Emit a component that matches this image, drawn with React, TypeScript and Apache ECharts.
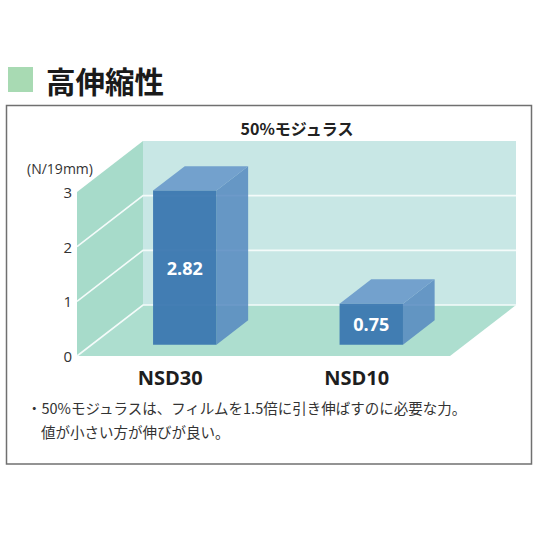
import React, { useEffect, useRef } from "react";
import * as echarts from "echarts";

const categories = ["NSD30", "NSD10"];
const values = [2.82, 0.75];
const yTicks = [0, 1, 2, 3];
const gridValues = [0, 1, 2];
const mainTitle = "高伸縮性";
const subTitle = "50%モジュラス";
const unitLabel = "(N/19mm)";
const noteLines = [
  "・50%モジュラスは、フィルムを1.5倍に引き伸ばすのに必要な力。",
  "値が小さい方が伸びが良い。",
];

const FONT = "'Open Sans', 'Noto Sans CJK JP', sans-serif";
const JP = "'Noto Sans CJK JP', 'Open Sans', sans-serif";
const DX = 66;
const DY = -51;
const F1 = 0.22;
const F2 = 0.7;

export default function App() {
  const ref = useRef<HTMLDivElement>(null);
  useEffect(() => {
    if (!ref.current) return;
    const chart = echarts.init(ref.current, undefined, { renderer: "svg" });

    const wallsRender = (params: any, api: any) => {
      const cs = params.coordSys;
      const x0 = cs.x, x1 = cs.x + cs.width;
      const yTop = cs.y, yBot = cs.y + cs.height;
      const children: any[] = [];
      children.push({
        type: "rect",
        shape: { x: x0 + DX, y: yTop + DY, width: x1 - x0, height: yBot - yTop },
        style: { fill: "#c8e7e5" },
      });
      children.push({
        type: "polygon",
        shape: { points: [[x0, yTop], [x0 + DX, yTop + DY], [x0 + DX, yBot + DY], [x0, yBot]] },
        style: { fill: "#a7dbca" },
      });
      children.push({
        type: "polygon",
        shape: { points: [[x0, yBot], [x1, yBot], [x1 + DX, yBot + DY], [x0 + DX, yBot + DY]] },
        style: { fill: "#addecf" },
      });
      gridValues.forEach((v) => {
        const y = api.coord([0, v])[1];
        children.push({
          type: "polyline",
          shape: { points: [[x0, y], [x0 + DX, y + DY], [x1 + DX, y + DY]] },
          style: { stroke: "#f4fbfa", lineWidth: 1.6, fill: null },
        });
      });
      return { type: "group", children };
    };

    const barsRender = (params: any, api: any) => {
      const cat = api.value(0);
      const val = api.value(1);
      const base = api.coord([cat, 0]);
      const top = api.coord([cat, val]);
      const bw = api.size([1, 0])[0] * 0.34;
      const ox = F1 * DX, oy = F1 * DY;
      const dx = (F2 - F1) * DX, dy = (F2 - F1) * DY;
      const x0 = base[0] - bw / 2 + ox;
      const x1 = x0 + bw;
      const yb = base[1] + oy;
      const yt = top[1] + oy;
      return {
        type: "group",
        children: [
          {
            type: "polygon",
            shape: { points: [[x1, yt], [x1 + dx, yt + dy], [x1 + dx, yb + dy], [x1, yb]] },
            style: { fill: "#5588bf", opacity: 0.85 },
          },
          {
            type: "polygon",
            shape: { points: [[x0, yt], [x1, yt], [x1 + dx, yt + dy], [x0 + dx, yt + dy]] },
            style: { fill: "#6b9bcb", opacity: 0.92 },
          },
          {
            type: "rect",
            shape: { x: x0, y: yt, width: bw, height: yb - yt },
            style: { fill: "#3b77b0", opacity: 0.95 },
          },
          {
            type: "text",
            x: x0 + bw / 2,
            y: (yt + yb) / 2,
            style: {
              text: val.toFixed(2),
              fill: "#ffffff",
              font: `bold 18px ${FONT}`,
              align: "center",
              verticalAlign: "middle",
            },
          },
        ],
      };
    };

    chart.setOption({
      animation: false,
      backgroundColor: "#ffffff",
      grid: { left: 77, top: 192, width: 373, height: 164 },
      xAxis: {
        type: "category",
        data: categories,
        axisLine: { show: false },
        axisTick: { show: false },
        axisLabel: {
          margin: 11,
          fontFamily: FONT,
          fontWeight: "bold",
          fontSize: 20,
          color: "#1e1e1e",
        },
      },
      yAxis: {
        type: "value",
        min: yTicks[0],
        max: yTicks[yTicks.length - 1],
        interval: 1,
        axisLine: { show: false },
        axisTick: { show: false },
        splitLine: { show: false },
        axisLabel: { margin: 5, fontFamily: FONT, fontSize: 15, color: "#333333" },
      },
      series: [
        {
          type: "custom",
          renderItem: wallsRender,
          data: [[0, 0]],
          silent: true,
          z: 1,
        },
        {
          type: "custom",
          renderItem: barsRender,
          data: values.map((v, i) => [i, v]),
          z: 2,
        },
      ],
      graphic: [
        {
          type: "rect",
          shape: { x: 8, y: 67, width: 25, height: 25 },
          style: { fill: "#a8dab3" },
        },
        {
          type: "text",
          x: 46,
          y: 80,
          style: {
            text: mainTitle,
            font: `bold 29.5px ${JP}`,
            fill: "#1a1a1a",
            verticalAlign: "middle",
          },
        },
        {
          type: "rect",
          shape: { x: 6.5, y: 105.5, width: 525, height: 358.5 },
          style: { fill: null, stroke: "#707070", lineWidth: 1.5 },
        },
        {
          type: "text",
          x: 297,
          y: 128,
          style: {
            text: subTitle,
            font: `bold 16px ${JP}`,
            fill: "#222222",
            align: "center",
            verticalAlign: "middle",
          },
        },
        {
          type: "text",
          x: 60,
          y: 168,
          style: {
            text: unitLabel,
            font: `14px ${FONT}`,
            fill: "#333333",
            align: "center",
            verticalAlign: "middle",
          },
        },
        {
          type: "text",
          x: 27,
          y: 407,
          style: {
            text: noteLines[0],
            font: `14.5px ${JP}`,
            fill: "#333333",
            verticalAlign: "middle",
          },
        },
        {
          type: "text",
          x: 41,
          y: 431,
          style: {
            text: noteLines[1],
            font: `14.5px ${JP}`,
            fill: "#333333",
            verticalAlign: "middle",
          },
        },
      ],
    });
    return () => chart.dispose();
  }, []);
  return (
    <div
      ref={ref}
      style={{ position: "absolute", left: 0, top: 0, width: 540, height: 540, background: "#fff" }}
    />
  );
}
